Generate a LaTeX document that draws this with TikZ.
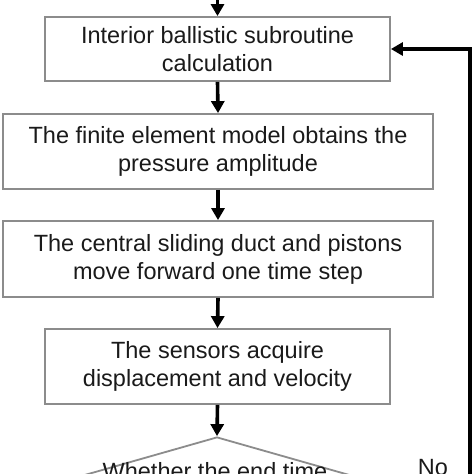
\documentclass[tikz,border=0pt]{standalone}
\usepackage{fontspec}
\setmainfont{Liberation Sans}
\usetikzlibrary{arrows.meta,shapes.geometric}
\begin{document}
\begin{tikzpicture}[x=1pt,y=-1pt,
  stepbox/.style={draw=boxgray,line width=1.8pt,fill=white,align=center,inner sep=0pt,
    font=\fontsize{23.5}{28}\selectfont,text=txt},
  arr/.style={line width=3.6pt,-{Triangle[length=12pt,width=13pt]}},
  lbl/.style={font=\fontsize{23.5}{28}\selectfont,text=txt,inner sep=0pt}]
\definecolor{boxgray}{HTML}{8C8C8C}
\definecolor{txt}{HTML}{1A1A1A}
\useasboundingbox (0,0) rectangle (474,474);
\clip (0,0) rectangle (474,474);
\fill[white] (0,0) rectangle (474,474);
\node[stepbox,minimum width=345pt,minimum height=64pt] (b1) at (217.5,49) {Interior ballistic subroutine\\calculation};
\node[stepbox,minimum width=430pt,minimum height=75pt] (b2) at (218,151.5) {The finite element model obtains the\\pressure amplitude};
\node[stepbox,minimum width=430pt,minimum height=76pt] (b3) at (218,259) {The central sliding duct and pistons\\move forward one time step};
\node[stepbox,minimum width=345pt,minimum height=75pt] (b4) at (217.5,366.5) {The sensors acquire\\displacement and velocity};
\node[diamond,draw=boxgray,line width=1.8pt,aspect=3.5,minimum width=420pt,minimum height=120pt,inner sep=0pt] (d) at (217,497) {};
\node[lbl,anchor=base] (dt) at (215,479) {Whether the end time};
\node[lbl,anchor=base] (no) at (433,475) {No};
\coordinate (top) at (217.5,-4);
\coordinate (fb) at (470,0);
\draw[arr] (top) -- (b1.north);
\draw[arr] (b1.south) -- (b2.north);
\draw[arr] (b2.south) -- (b3.north);
\draw[arr] (b3.south) -- (b4.north);
\draw[arr] (b4.south) -- (d.north);
\draw[arr] (d.east) -- (d.east -| fb) |- (b1.east);
\end{tikzpicture}
\end{document}
